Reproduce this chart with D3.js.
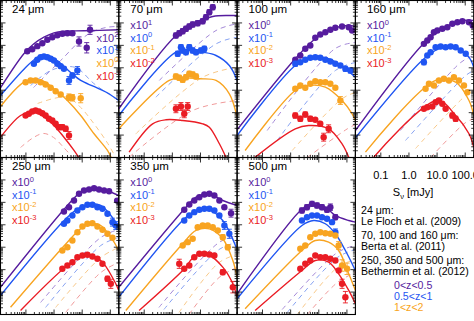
<!DOCTYPE html>
<html>
<head>
<meta charset="utf-8">
<script src="https://cdn.jsdelivr.net/npm/d3@7"></script>
<style>
body { margin: 0; background: #fff; }
text { font-family: "Liberation Sans", Arial, Helvetica, sans-serif; }
</style>
</head>
<body>
<div id="chart"></div>
<script>
// colour order in every panel: 0<z<0.5, 0.5<z<1, 1<z<2, 2<z<3
var colors = ["#561c9e", "#1f55f2", "#f8a421", "#ea1c24"];
var lightColors = ["#a58ad8", "#88a3f2", "#f8c98a", "#f09a9a"];

var wavelengths = ["24", "70", "100", "160", "250", "350", "500"];
var multipliers = [
  ["2", "1", "0", "-1"],
  ["1", "0", "-1", "-2"],
  ["0", "-1", "-2", "-3"],
  ["0", "-1", "-2", "-3"],
  ["0", "-1", "-2", "-3"],
  ["0", "-1", "-2", "-3"],
  ["0", "-1", "-2", "-3"]
];
var xTickValues = [0.1, 1, 10, 100];
var xTickLabels = ["0.1", "1.0", "10.0", "100.0"];
var redshiftBins = ["0<z<0.5", "0.5<z<1", "1<z<2"];
var references = [
  ["24 \u03bcm:", "Le Floch et al. (2009)"],
  ["70, 100 and 160 \u03bcm:", "Berta et al. (2011)"],
  ["250, 350 and 500 \u03bcm:", "Bethermin et al. (2012)"]
];

// observed counts: [S mJy, counts, error factor]
var pts24 = [
  [[0.112,5.5e4],[0.168,6.75e4],[0.254,9.2e4],[0.383,1.25e5],[0.577,1.77e5],[0.869,2.31e5],[1.31,2.84e5],[1.97,3.27e5],[2.98,3.48e5],[4.49,3.48e5,1.2],[7.71,1.49e5,1.6],[14.5,7.8e4,1.7],[19.0,4.94e5,1.6]],
  [[0.192,1.51e4],[0.254,2.27e4],[0.333,2.96e4],[0.437,3.18e4],[0.577,2.96e4],[0.757,2.52e4],[0.99,2.11e4],[1.31,1.51e4],[1.72,1.18e4],[2.25,9.0e3],[3.40,2.72e3,1.5],[4.49,4.54e3,1.3],[6.76,7.57e3,1.5]],
  [[0.0973,2.28e3],[0.147,2.72e3],[0.221,2.72e3],[0.333,2.28e3],[0.501,1.80e3],[0.756,1.28e3],[1.14,906],[1.72,644],[3.40,489,1.4],[4.49,459,1.4],[8.86,441,1.6]],
  [[0.0973,74.6],[0.127,88.9],[0.168,113],[0.221,125],[0.290,113],[0.383,94.6],[0.501,74.6],[0.658,53.2],[0.869,44.6],[1.14,31.8],[1.49,22.5,1.3],[1.97,22.5,1.3],[2.59,19.1,1.3],[3.40,9.6,1.5]]
];
var fit24 = [
  [[0.0125,1.28e3],[0.0845,4.21e4],[0.192,1.17e5],[0.437,2.31e5],[0.99,3.63e5],[2.25,4.28e5],[11.6,4.46e5],[200,4.94e5]],
  [[0.0125,582],[0.0973,1.03e4],[0.221,2.6e4],[0.392,3.72e4],[0.756,3.19e4],[1.72,1.55e4],[3.90,6.16e3],[8.86,2.72e3],[25.8,1.47e3],[74.8,792],[200,348]],
  [[0.0125,188],[0.0845,2.28e3],[0.192,2.92e3],[0.437,2.45e3],[0.99,1.16e3],[2.98,348],[8.86,74.6],[26.4,11.4],[79.2,2.06],[119,0.74]],
  [[0.0125,8.05],[0.0645,74.6],[0.1466,105],[0.254,94.6],[0.756,37.6],[2.25,8.05],[5.12,2.06],[8.86,0.74]]
];
var part24 = [
  [[0.187,1.32e3],[1.72,2.11e4],[15.7,3.05e5],[68.9,6.25e5],[200,6.93e5]],
  [[0.147,1.63e3],[0.756,7.57e3],[3.05,1.14e4],[6.93,9.3e3],[25.8,2.0e3],[133,474],[200,348]],
  [[0.26,256],[0.966,428],[3.05,489],[8.86,170],[25.8,32.9],[81.1,4.22],[156,1]],
  [[0.0645,2.8],[0.187,7.8],[0.426,11.8],[0.966,7.8],[2.2,2.8],[4.59,1]]
];

var pts70 = [
  [[1.34,2.75e5,1.3],[1.76,3.48e5,1.3],[2.33,4.28e5,1.3],[3.05,5.47e5,1.3],[4.0,6.93e5,1.3],[5.28,8.51e5,1.3],[7.96,9.73e5,1.3],[12.0,1.19e6,1.3],[15.7,1.8e6,1.3],[20.6,3.0e6,1.3],[27.3,5.0e6,1.3]],
  [[1.55,4.21e4,1.3],[2.02,8.28e4,1.3],[2.33,5.9e4,1.3],[3.05,4.95e4,1.3],[4.0,8.28e4,1.3],[5.28,5.9e4,1.3],[6.93,4.95e4,1.3],[10.4,5.9e4,1.3],[13.7,7.03e4,1.3]],
  [[1.34,4.09e3,1.3],[1.76,3.58e3,1.3],[2.33,2.92e3,1.3],[3.05,3.81e3,1.3],[4.0,5.4e3,1.3],[5.28,5.02e3,1.3],[6.93,4.09e3,1.3]],
  [[1.34,149,1.5],[2.02,188,1.5],[2.65,89,1.5],[3.51,188,1.5]]
];
var fit70 = [
  [[0.0125,149],[1.34,2.75e5],[6.93,1.08e6],[27.3,1.94e6],[106,2.14e6],[200,2.14e6]],
  [[0.0125,74.6],[1.34,4.95e4],[4.0,5.9e4],[12.0,4.95e4],[35.7,3.53e4],[106,1.26e4],[200,2.72e3]],
  [[0.0125,19.1],[0.774,2.72e3],[2.33,3.58e3],[9.08,3.23e3],[35.7,2.72e3],[106,693],[200,62.7]],
  [[0.0291,1.73],[0.199,31.8],[0.592,48.1],[2.33,44.6],[12.0,31.8],[20.6,22.5],[46.9,4.09],[81.1,1]]
];
var part70 = [
  [[0.341,2.72e3],[35.7,4.6e5],[200,9.14e5]],
  [[0.26,489],[35.7,1.17e5],[200,2.31e5]],
  [[0.0505,11.4],[12.0,3.81e3],[200,1.06e4]],
  [[0.0291,1.03],[5.28,125],[200,348]]
];

var pts100 = [
  [[1.46,2.27e4],[2.2,3.53e4],[3.31,7.03e4],[4.99,9.86e4],[7.52,2.17e5],[11.3,3.05e5],[17.1,3.86e5],[25.8,4.94e5],[38.8,6.07e5],[67.1,6.93e5],[116,6.45e5],[153,4.6e5]],
  [[1.46,1.51e4,1.3],[2.2,1.77e4],[3.31,2.27e4],[4.99,2.79e4],[7.52,2.96e4],[11.3,2.79e4],[17.1,2.27e4],[25.8,1.91e4],[38.8,1.51e4],[58.5,1.26e4],[88.1,9.0e3,1.3],[133,7.57e3,1.3]],
  [[1.46,1.16e3,1.2],[2.2,1.63e3],[3.31,1.28e3],[4.99,1.93e3],[7.52,2.52e3],[11.3,2.28e3],[17.1,2.28e3],[25.8,1.93e3],[38.8,1.28e3],[58.5,348,1.5]],
  [[1.46,74.6,1.3],[2.2,53.2,1.3],[3.31,82.8,1.3],[4.99,53.2,1.3],[7.52,48.1],[11.3,31.8],[14.9,8.05,1.5],[22.4,19.1,1.5]]
];
var fit100 = [
  [[0.0125,17.2],[1.46,2.52e4],[7.52,1.96e5],[38.8,6.07e5],[116,7.69e5],[200,6.93e5]],
  [[0.0125,9.6],[1.46,1.26e4],[5.74,2.96e4],[22.4,2.52e4],[88.1,9.0e3],[200,3.81e3]],
  [[0.0241,2.06],[1.46,973],[4.34,1.63e3],[17.1,1.37e3],[67.1,348],[153,89],[200,44.6]],
  [[0.0547,1.03],[1.46,19.1],[4.34,26.7],[22.4,19.1],[67.1,4.09],[116,1.03]]
];
var part100 = [
  [[0.147,16],[38.8,7.3e4],[200,1.34e5]],
  [[0.333,5.74],[38.8,7.57e3],[200,1.72e4]],
  [[1.14,2.06],[68.9,428],[200,792]],
  [[3.9,1],[104,19.1],[200,29.6]]
];

var pts160 = [
  [[3.40,1.17e5],[4.49,1.65e5],[5.88,2.31e5],[7.71,3.86e5],[10.2,4.6e5],[15.3,5.47e5],[23.1,6.45e5],[34.8,9.14e5],[52.6,1.08e6],[79.2,1.19e6],[136,1.08e6],[185,7.69e5]],
  [[3.40,1.77e4,1.3],[4.49,3.53e4],[5.88,4.95e4],[8.86,8.28e4],[13.4,8.9e4],[20.1,8.28e4],[30.3,8.9e4],[45.7,8.28e4],[68.9,5.9e4],[104,4.21e4]],
  [[3.90,1.16e3,1.2],[5.12,1.93e3],[7.71,1.63e3],[11.6,2.72e3],[17.5,3.23e3],[26.4,2.72e3],[39.7,3.81e3],[59.9,2.72e3],[90.4,1.63e3],[119,817]],
  [[3.40,149],[4.49,175],[6.76,188],[8.86,292,1.2],[11.6,348,1.2],[15.3,248],[20.1,149],[34.8,74.6,1.3],[45.7,53.2,1.3]]
];
var fit160 = [
  [[0.0125,16],[3.40,1.25e5],[15.3,5.47e5],[79.2,1.28e6],[200,1.28e6]],
  [[0.0125,7.57],[3.40,2.52e4],[11.6,7.03e4],[45.7,7.78e4],[136,2.96e4],[200,1.06e4]],
  [[0.0284,1.73],[8.86,2.72e3],[45.7,2.28e3],[136,348],[200,74.6]],
  [[0.0561,1.03],[10.2,348],[45.7,74.6],[136,11.4],[200,2.88]]
];
var part160 = [
  [[0.501,16],[68.9,1.72e4],[200,3.53e4]],
  [[0.756,5.74],[104,4.53e3],[200,7.57e3]],
  [[1.72,2.52],[104,582],[200,973]],
  [[5.88,1],[104,36.4],[200,53.2]]
];

var pts250 = [
  [[2.25,3.92e4],[3.40,6.08e4],[5.12,1.21e5],[7.71,2.41e5],[11.6,3.38e5],[17.5,3.74e5],[26.4,4.28e5],[39.7,3.74e5],[59.9,3.38e5],[90.4,3.15e5],[175,1.2e5]],
  [[2.25,1.11e4],[2.98,1.55e4],[4.49,2.6e4],[6.76,4.34e4],[10.2,6.08e4],[15.3,7.78e4],[23.1,7.78e4],[34.8,6.08e4],[52.6,5.16e4],[79.2,3.09e4],[119,1.31e4,1.5],[156,9.3e3,1.5]],
  [[1.97,715],[2.98,1.0e3],[4.49,2.0e3],[6.76,4.68e3],[10.2,8.4e3],[15.3,1.11e4],[23.1,1.18e4],[34.8,8.4e3],[52.6,5.98e3],[79.2,3.97e3],[119,2.63e3]],
  [[1.97,109],[2.98,153],[4.49,215],[6.76,359],[10.2,428],[15.3,459],[23.1,386],[34.8,305],[52.6,182],[79.2,39.1,1.3],[104,23.4,1.6]]
];
var fit250 = [
  [[0.0125,16.5],[2.98,7.25e4],[8.86,2.84e5],[20.1,4.46e5],[59.9,3.63e5],[200,2.02e5]],
  [[0.0125,7.05],[2.98,2.18e4],[8.86,6.08e4],[20.1,8.6e4],[45.7,7.25e4],[104,2.6e4],[200,7.82e3]],
  [[0.0284,2.12],[2.98,1.68e3],[8.86,6.62e3],[20.1,1.11e4],[45.7,9.3e3],[104,2.8e3],[200,715]],
  [[0.0645,1.51],[5.12,256],[15.3,428],[45.7,256],[136,32.9],[200,11.8]]
];
var part250 = [
  [[0.333,3.43],[45.7,2.72e3],[200,6.16e3]],
  [[0.501,2.06],[45.7,1.19e3],[200,2.72e3]],
  [[1.14,2.06],[45.7,348],[200,973]],
  [[2.59,1.23],[45.7,74.6],[200,208]]
];

var pts350 = [
  [[2.65,4.66e4],[4.0,8.0e4],[6.03,1.21e5],[9.08,1.7e5],[13.7,2.24e5],[20.6,2.41e5],[31.1,2.02e5],[46.9,1.21e5],[70.6,6.08e4],[122,3.29e4,1.5]],
  [[2.65,1.55e4],[4.0,2.6e4],[6.03,3.65e4],[9.08,4.66e4],[13.7,5.16e4],[20.6,5.16e4],[31.1,4.34e4],[46.9,2.6e4],[70.6,9.3e3,1.5],[106,3.97e3,1.6]],
  [[2.33,1.19e3],[3.51,1.68e3],[5.28,2.38e3],[7.96,7.82e3],[12.0,9.3e3],[18.1,9.3e3],[27.3,7.82e3],[41.1,5.57e3],[61.9,2.8e3,1.3],[93.3,1.0e3,1.3]],
  [[1.76,182,1.6],[2.65,109],[4.0,153],[6.03,359],[9.08,510],[13.7,510],[20.6,474],[31.1,428],[61.9,77.1,1.3],[141,16.5,1.8]]
];
var fit350 = [
  [[0.0125,16.5],[3.05,6.08e4],[6.93,1.7e5],[20.6,2.41e5],[61.9,1.21e5],[200,7.25e4]],
  [[0.0125,5.92],[2.33,1.55e4],[6.93,4.34e4],[20.6,4.66e4],[61.9,1.55e4],[185,1.0e3]],
  [[0.0222,1.51],[2.33,1.42e3],[6.93,5.57e3],[20.6,6.62e3],[61.9,2.38e3],[141,256],[200,44.6]],
  [[0.066,1.51],[2.33,91.6],[6.93,428],[20.6,428],[61.9,129],[141,23.4],[200,5.74]]
];
var part350 = [
  [[0.333,2.06],[45.7,1.63e3],[200,3.33e3]],
  [[0.501,1.67],[45.7,792],[200,1.63e3]],
  [[1.72,1.23],[45.7,208],[200,474]],
  [[3.9,1],[45.7,44.6],[200,125]]
];

var pts500 = [
  [[2.52,4.34e4,1.3],[3.8,6.08e4,1.3],[5.74,8.6e4,1.3],[8.65,7.25e4,1.3],[13.0,6.08e4,1.3],[19.6,4.66e4,1.3],[25.8,6.08e4,1.4],[38.8,2.18e4,1.3]],
  [[2.52,1.55e4],[3.8,2.18e4],[5.74,2.6e4],[8.65,2.6e4],[13.0,2.18e4],[19.6,1.85e4],[29.6,1.31e4],[38.8,4.68e3,1.4]],
  [[2.2,851],[3.31,1.19e3],[4.99,2.8e3],[7.52,3.97e3],[11.3,4.68e3],[17.1,4.22e3],[25.8,3.97e3],[38.8,3.33e3],[50.8,1.19e3,1.5],[67.1,153,1.8],[101,109,1.8]],
  [[2.2,109],[3.31,182],[4.99,256],[7.52,428],[11.3,359],[17.1,359],[25.8,305],[38.8,256],[50.8,91.6],[67.1,23.4,1.6],[88.1,5.92,1.8]]
];
var fit500 = [
  [[0.0125,8.4],[2.25,4.34e4],[5.74,8.6e4],[17.1,6.08e4],[38.8,2.6e4],[116,1.55e4],[200,1.31e4]],
  [[0.0125,5.02],[2.52,9.3e3],[6.55,1.55e4],[17.1,1.11e4],[38.8,3.97e3],[88.1,715],[200,91.6]],
  [[0.0241,1.8],[2.52,715],[7.52,2.0e3],[22.4,1.68e3],[50.8,715],[116,65.3],[200,11.8]],
  [[0.0547,1.51],[2.52,91.6],[7.52,256],[22.4,215],[50.8,65.3],[116,11.8],[200,3.0]]
];
var part500 = [
  [[0.501,1.67],[45.7,582],[200,1.19e3]],
  [[0.756,1.23],[45.7,348],[200,792]],
  [[1.72,1],[45.7,125],[200,284]],
  [[3.9,1],[45.7,26.7],[200,74.6]]
];

var allPts = [pts24, pts70, pts100, pts160, pts250, pts350, pts500];
var allFit = [fit24, fit70, fit100, fit160, fit250, fit350, fit500];
var allPart = [part24, part70, part100, part160, part250, part350, part500];

var width = 474, height = 321;
var panelW = 118.3, panelH = 157;

var svg = d3.select("#chart").append("svg")
    .attr("width", width)
    .attr("height", height);

var x160; // x scale of the 160 panel, its labels sit below it

wavelengths.forEach(function(wl, k) {
  var col = k < 4 ? k : k - 4,
      row = k < 4 ? 0 : 1;
  var x0 = 0.5 + col * panelW,
      y0 = 0.5 + row * panelH;

  var x = d3.scaleLog().domain([0.0125, 200]).range([x0, x0 + panelW]);
  var y = d3.scaleLog().domain([1, 1e7]).range([y0 + panelH, y0]);
  if (k == 3) x160 = x;

  svg.append("clipPath").attr("id", "clip" + k)
    .append("rect")
    .attr("x", x0).attr("y", y0)
    .attr("width", panelW).attr("height", panelH);

  var g = svg.append("g").attr("clip-path", "url(#clip" + k + ")");

  var line = d3.line()
      .x(function(d) { return x(d[0]); })
      .y(function(d) { return y(d[1]); })
      .curve(d3.curveCatmullRom.alpha(0.5));

  // model components, dashed
  allPart[k].forEach(function(s, i) {
    g.append("path")
      .attr("d", line(s))
      .attr("fill", "none")
      .attr("stroke", lightColors[i])
      .attr("stroke-width", 1)
      .attr("stroke-dasharray", "5,4");
  });

  // total model, solid
  allFit[k].forEach(function(s, i) {
    g.append("path")
      .attr("d", line(s))
      .attr("fill", "none")
      .attr("stroke", colors[i])
      .attr("stroke-width", 1.4);
  });

  // data with error bars
  allPts[k].forEach(function(s, i) {
    var pg = g.append("g");
    var e = function(d) { return d[2] || 1.1; };
    pg.selectAll("line.bar").data(s).enter().append("line")
      .attr("x1", function(d) { return x(d[0]); })
      .attr("x2", function(d) { return x(d[0]); })
      .attr("y1", function(d) { return y(d[1] / e(d)); })
      .attr("y2", function(d) { return y(d[1] * e(d)); })
      .attr("stroke", colors[i]).attr("stroke-width", 0.9);
    [-1, 1].forEach(function(sg) {
      pg.selectAll(null).data(s).enter().append("line")
        .attr("x1", function(d) { return x(d[0]) - 2.5; })
        .attr("x2", function(d) { return x(d[0]) + 2.5; })
        .attr("y1", function(d) { return y(d[1] * Math.pow(e(d), sg)); })
        .attr("y2", function(d) { return y(d[1] * Math.pow(e(d), sg)); })
        .attr("stroke", colors[i]).attr("stroke-width", 0.9);
    });
    pg.selectAll("circle").data(s).enter().append("circle")
      .attr("cx", function(d) { return x(d[0]); })
      .attr("cy", function(d) { return y(d[1]); })
      .attr("r", 3.2)
      .attr("fill", colors[i]);
  });

  // ticks on all four sides, pointing inwards
  var xt = x.ticks(), yt = y.ticks();
  function isMajor(v) { return Math.abs(Math.log10(v) - Math.round(Math.log10(v))) < 1e-6; }
  var tg = svg.append("g").attr("stroke", "#000").attr("stroke-width", 0.8);
  xt.forEach(function(v) {
    var len = isMajor(v) ? 5 : 2.5;
    tg.append("line").attr("x1", x(v)).attr("x2", x(v)).attr("y1", y0 + panelH).attr("y2", y0 + panelH - len);
    tg.append("line").attr("x1", x(v)).attr("x2", x(v)).attr("y1", y0).attr("y2", y0 + len);
  });
  yt.forEach(function(v) {
    var len = isMajor(v) ? 5 : 2.5;
    tg.append("line").attr("y1", y(v)).attr("y2", y(v)).attr("x1", x0).attr("x2", x0 + len);
    tg.append("line").attr("y1", y(v)).attr("y2", y(v)).attr("x1", x0 + panelW).attr("x2", x0 + panelW - len);
  });
  svg.append("rect")
    .attr("x", x0).attr("y", y0)
    .attr("width", panelW).attr("height", panelH)
    .attr("fill", "none").attr("stroke", "#000").attr("stroke-width", 1.1);

  // titles and scalings
  svg.append("text")
    .attr("x", x0 + 11.5).attr("y", y0 + 12)
    .style("font-size", "11.5px")
    .text(wl + " \u03bcm");

  var lx = k == 0 ? x0 + 96 : x0 + 11.5,
      ly = k == 0 ? y0 + 41 : y0 + 28.5;
  multipliers[k].forEach(function(m, i) {
    var t = svg.append("text")
      .attr("x", lx).attr("y", ly + i * 12.7)
      .attr("fill", colors[i])
      .style("font-size", "11px");
    t.append("tspan").text("x10");
    t.append("tspan").attr("dy", -4.5).style("font-size", "7.5px").text(m);
  });
});

// x axis labels below the 160 panel
xTickValues.forEach(function(v, i) {
  svg.append("text")
    .attr("x", x160(v)).attr("y", 179)
    .attr("text-anchor", "middle")
    .style("font-size", "11px")
    .text(xTickLabels[i]);
});
var sl = svg.append("text")
  .attr("x", 413).attr("y", 196)
  .attr("text-anchor", "middle")
  .style("font-size", "11px");
sl.append("tspan").text("S");
sl.append("tspan").attr("dy", 2.5).style("font-size", "7.5px").text("\u03bd");
sl.append("tspan").attr("dy", -2.5).text(" [mJy]");

references.forEach(function(r, i) {
  r.forEach(function(s, j) {
    svg.append("text")
      .attr("x", 361).attr("y", 214 + i * 25 + j * 10.8)
      .style("font-size", "10.6px")
      .text(s);
  });
});

redshiftBins.forEach(function(s, i) {
  svg.append("text")
    .attr("x", 394).attr("y", 289 + i * 11)
    .attr("fill", colors[i])
    .style("font-size", "10.6px")
    .text(s);
});
</script>
</body>
</html>
